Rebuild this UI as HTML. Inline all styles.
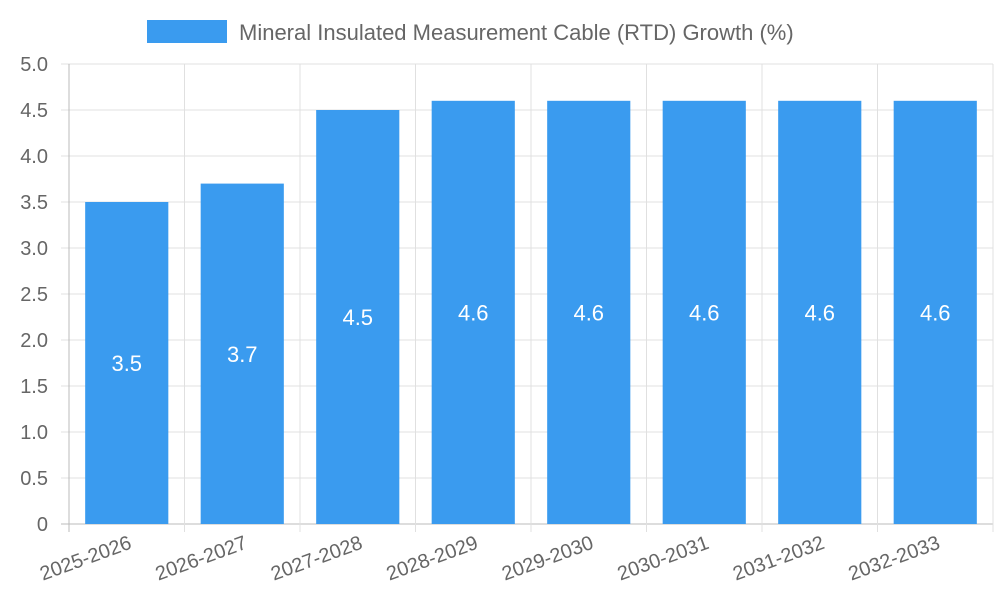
<!DOCTYPE html>
<html><head><meta charset="utf-8"><style>
body{margin:0;background:#fff;}
svg{display:block;font-family:"Liberation Sans",sans-serif;}
</style></head><body>
<svg id="chart" width="1000" height="600">
<g>
<rect x="147" y="20" width="80" height="23" fill="#3a9bef"/>
<text x="239" y="40" font-size="22" fill="#666">Mineral Insulated Measurement Cable (RTD) Growth (%)</text>
</g>
<g id="grid"></g><g id="bars"></g><g id="labels"></g>
</svg>
<script>
const categories=["2025-2026","2026-2027","2027-2028","2028-2029","2029-2030","2030-2031","2031-2032","2032-2033"];
const values=[3.5,3.7,4.5,4.6,4.6,4.6,4.6,4.6];
const yTicks=[0,0.5,1.0,1.5,2.0,2.5,3.0,3.5,4.0,4.5,5.0];
const yTickLabels=["0","0.5","1.0","1.5","2.0","2.5","3.0","3.5","4.0","4.5","5.0"];
const NS="http://www.w3.org/2000/svg";
const L=69,R=993,T=64,B=524,yMax=5;
const bw=(R-L)/categories.length;
const y=v=>B-(v/yMax)*(B-T);
const x=i=>L+bw*i;
function mk(tag,attrs,parent){const e=document.createElementNS(NS,tag);for(const k in attrs)e.setAttribute(k,attrs[k]);parent.appendChild(e);return e;}
const grid=document.getElementById('grid'),bars=document.getElementById('bars'),labels=document.getElementById('labels');
yTicks.forEach((t,i)=>{
  const ln=mk('line',{x1:L-8,x2:R,y1:y(t),y2:y(t),stroke:i===0?'#bbb':'#e0e0e0','stroke-width':1},grid);
  
  
  const tx=mk('text',{x:48,y:y(t)+7,'font-size':20,fill:'#666','text-anchor':'end'},labels);
  tx.textContent=yTickLabels[i];
  
  
});
for(let i=0;i<=categories.length;i++){
  const ln=mk('line',{x1:x(i),x2:x(i),y1:T,y2:B+8,stroke:i===0?'#bbb':'#e0e0e0','stroke-width':1},grid);
  
  
}
categories.forEach((c,i)=>{
  const cx=x(i)+bw/2,w=bw*0.72;
  const r=mk('rect',{x:cx-w/2,y:y(values[i]),width:w,height:B-y(values[i]),fill:'#3a9bef'},bars);
  
  
  const v=mk('text',{x:cx,y:(y(values[i])+B)/2+8,'font-size':22,fill:'#fff','text-anchor':'middle'},labels);
  v.textContent=values[i].toFixed(1);
  
  
  const t=mk('text',{x:cx+6,y:548,'font-size':20,fill:'#666','text-anchor':'end',transform:`rotate(-20 ${cx+6} 548)`},labels);
  t.textContent=c;
  
  
});
</script>
</body></html>
